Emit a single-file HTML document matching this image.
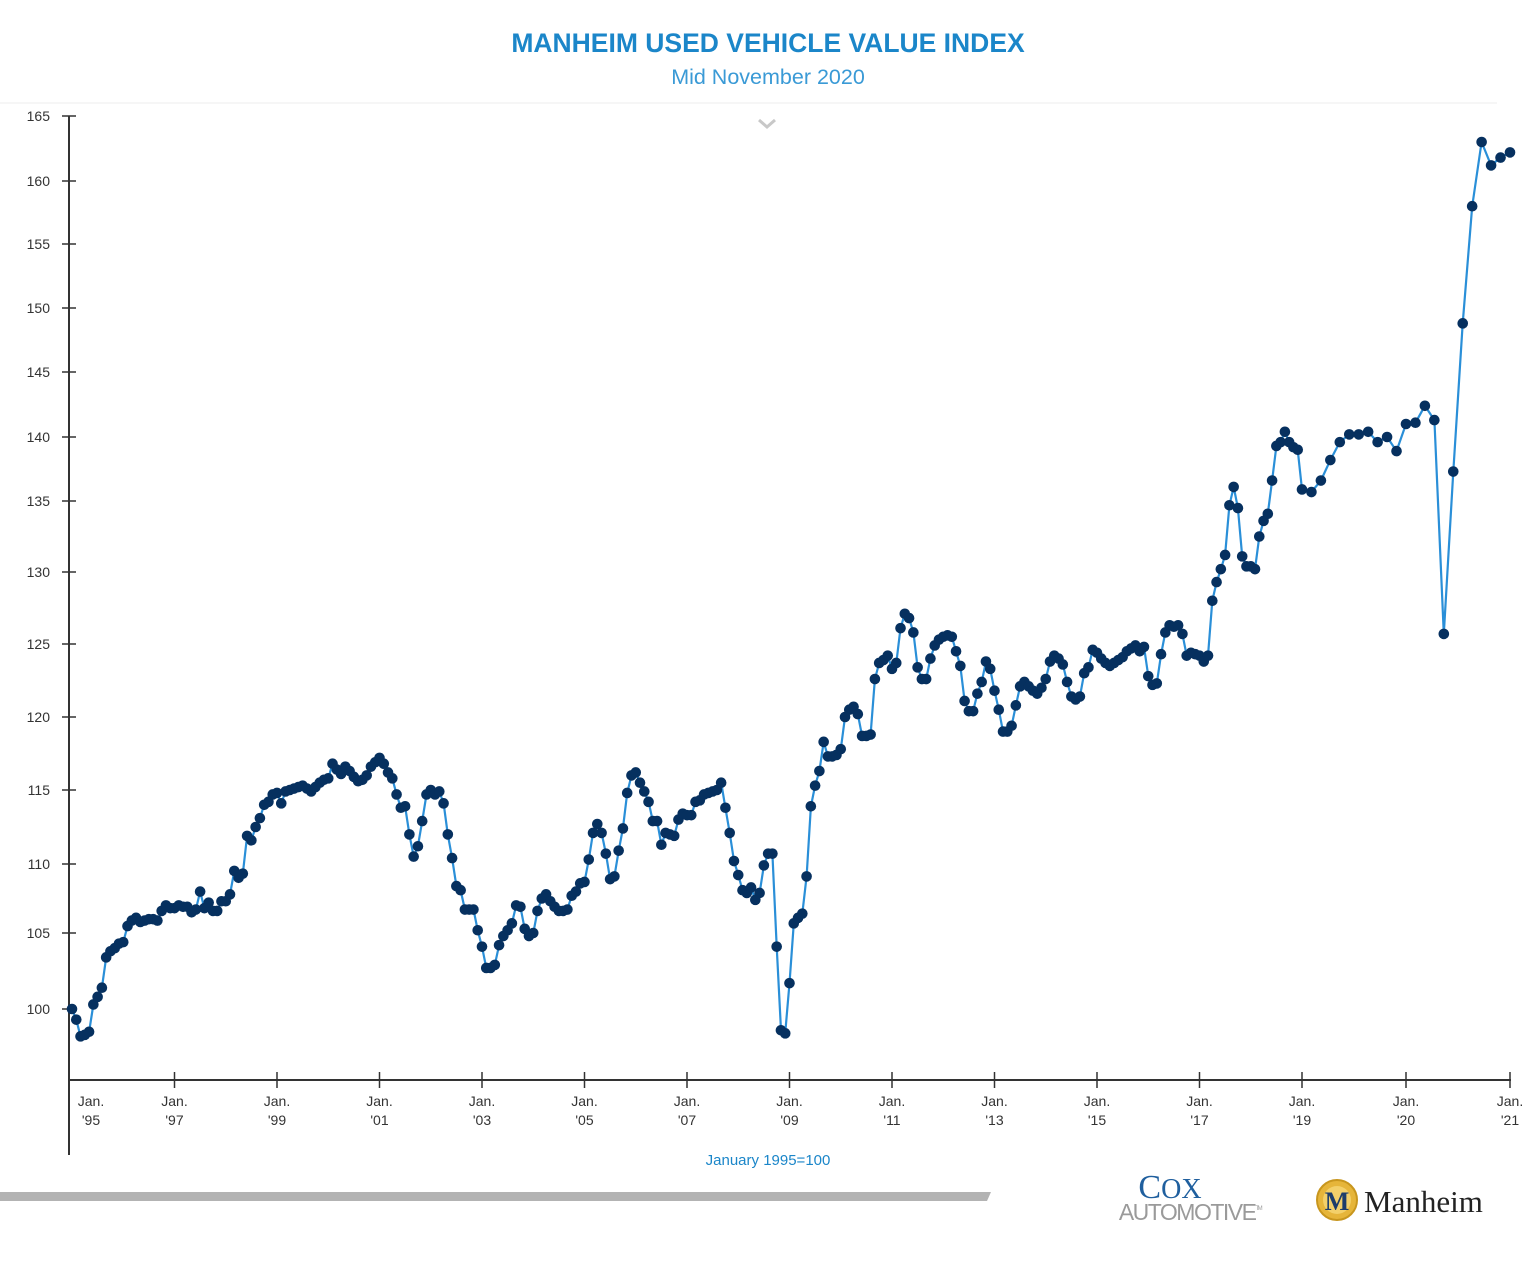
<!DOCTYPE html>
<html><head><meta charset="utf-8"><style>
body{margin:0;background:#fff;width:1536px;height:1268px;overflow:hidden;font-family:"Liberation Sans",sans-serif}
</style></head><body>
<svg width="1536" height="1268" viewBox="0 0 1536 1268" style="position:absolute;left:0;top:0">
<text x="768" y="52" text-anchor="middle" font-size="26.5" font-weight="bold" fill="#1b86c9">MANHEIM USED VEHICLE VALUE INDEX</text>
<text x="768" y="84" text-anchor="middle" font-size="21.5" fill="#3a9ad6">Mid November 2020</text>
<line x1="0" y1="103" x2="1497" y2="103" stroke="#eeeeee" stroke-width="1"/>
<path d="M759 120 L767 127 L775 120" fill="none" stroke="#c8c8c8" stroke-width="3"/>
<g id="axes"></g>
<g id="marks"></g>
<text x="768" y="1165" text-anchor="middle" font-size="15" fill="#1b86c9">January 1995=100</text>
<polygon points="0,1192 991,1192 987,1201 0,1201" fill="#b3b3b3"/>
<g>
<text x="1170" y="1198" text-anchor="middle" font-family="Liberation Serif" font-size="34" fill="#1f5f9e">C<tspan font-size="28">OX</tspan></text>
<text x="1190" y="1220" text-anchor="middle" font-family="Liberation Sans" font-size="23" fill="#9a9a9a" letter-spacing="-1.5">AUTOMOTIVE<tspan font-size="6" dy="-10">TM</tspan></text>
</g>
<g>
<circle cx="1337" cy="1200" r="20" fill="#e6b53a" stroke="#c8961e" stroke-width="2"/>
<circle cx="1337" cy="1200" r="14" fill="#f3d06a"/>
<text x="1337" y="1210" text-anchor="middle" font-family="Liberation Serif" font-weight="bold" font-size="26" fill="#1d3d6b">M</text>
<text x="1364" y="1212" font-family="Liberation Serif" font-size="31" fill="#222">Manheim</text>
</g>
</svg>
<script>
const years=[1995,1996,1997,1998,1999,2000,2001,2002,2003,2004,2005,2006,2007,2008,2009,2010,2011,2012,2013,2014,2015,2016,2017,2018,2019,2020];
const yTickValues=[100,105,110,115,120,125,130,135,140,145,150,155,160,165];
const xTickLabels=["'95","'97","'99","'01","'03","'05","'07","'09","'11","'13","'15","'17","'19","'20","'21"];
const xTickMonths=[0,24,48,72,96,120,144,168,192,216,240,264,288,299,310];
const values=[
100.0,99.3,98.2,98.3,98.5,100.3,100.8,101.4,103.4,103.8,104.0,104.3,
104.4,105.5,105.9,106.1,105.8,105.9,106.0,106.0,105.9,106.6,107.0,106.8,
106.8,107.0,106.9,106.9,106.5,106.7,108.0,106.8,107.2,106.6,106.6,107.3,
107.3,107.8,109.5,109.0,109.3,111.9,111.6,112.5,113.1,114.0,114.2,114.7,
114.8,114.1,114.9,115.0,115.1,115.2,115.3,115.1,114.9,115.2,115.5,115.7,
115.8,116.8,116.4,116.1,116.6,116.3,115.9,115.6,115.7,116.0,116.6,116.9,
117.2,116.8,116.2,115.8,114.7,113.8,113.9,112.0,110.5,111.2,112.9,114.7,
115.0,114.7,114.9,114.1,112.0,110.4,108.4,108.1,106.7,106.7,106.7,105.2,
104.1,102.7,102.7,102.9,104.2,104.8,105.2,105.7,107.0,106.9,105.3,104.8,
105.0,106.6,107.5,107.8,107.3,106.9,106.6,106.6,106.7,107.7,108.0,108.6,
108.7,110.3,112.1,112.7,112.1,110.7,108.9,109.1,110.9,112.4,114.8,116.0,
116.2,115.5,114.9,114.2,112.9,112.9,111.3,112.1,112.0,111.9,113.0,113.4,
113.3,113.3,114.2,114.3,114.7,114.8,114.9,115.0,115.5,113.8,112.1,110.2,
109.2,108.1,107.9,108.3,107.4,107.9,109.9,110.7,110.7,104.1,98.6,98.4,
101.7,105.7,106.1,106.4,109.1,113.9,115.3,116.3,118.3,117.3,117.3,117.4,
117.8,120.0,120.5,120.7,120.2,118.7,118.7,118.8,122.6,123.7,123.9,124.2,
123.3,123.7,126.1,127.1,126.8,125.8,123.4,122.6,122.6,124.0,124.9,125.3,
125.5,125.6,125.5,124.5,123.5,121.1,120.4,120.4,121.6,122.4,123.8,123.3,
121.8,120.5,119.0,119.0,119.4,120.8,122.1,122.4,122.1,121.8,121.6,122.0,
122.6,123.8,124.2,124.0,123.6,122.4,121.4,121.2,121.4,123.0,123.4,124.6,
124.4,124.0,123.7,123.5,123.7,123.9,124.1,124.5,124.7,124.9,124.5,124.8,
122.8,122.2,122.3,124.3,125.8,126.3,126.2,126.3,125.7,124.2,124.4,124.3,
124.2,123.8,124.2,128.0,129.3,130.2,131.2,134.7,136.1,134.5,131.1,130.4,
130.4,130.2,132.5,133.6,134.1,136.6,139.3,139.6,140.4,139.6,139.2,139.0,
135.9,135.7,136.6,138.2,139.6,140.2,140.2,140.4,139.6,140.0,138.9,141.0,
141.1,142.4,141.3,125.7,137.3,148.8,158.0,163.0,161.2,161.8,162.2];

// axis calibration (reference chart uses uneven spacing)
const yPix=[1009,933,864,790,717,644,572,501,437,372,308,244,181,116];
function yScale(v){
  for(let i=0;i<yTickValues.length-1;i++){
    const a=yTickValues[i],b=yTickValues[i+1];
    if(v<=b||i===yTickValues.length-2){return yPix[i]+(v-a)/(b-a)*(yPix[i+1]-yPix[i]);}
  }
}
function xScale(m){
  if(m<=288) return 72+m*(1302-72)/288;
  return 1302+(m-288)*(1510-1302)/22;
}
const NS='http://www.w3.org/2000/svg';
function mk(tag,attrs,parent){const e=document.createElementNS(NS,tag);for(const k in attrs)e.setAttribute(k,attrs[k]);parent.appendChild(e);return e;}
const axes=document.getElementById('axes'),marks=document.getElementById('marks');
let el=mk('line',{x1:69,y1:116,x2:69,y2:1155,stroke:'#333','stroke-width':2},axes);


el=mk('line',{x1:69,y1:1080,x2:1511,y2:1080,stroke:'#333','stroke-width':2},axes);


yTickValues.forEach(v=>{
  const y=yScale(v);
  const t=mk('line',{x1:62,y1:y,x2:76,y2:y,stroke:'#333','stroke-width':1.5},axes);
  
  
  const l=mk('text',{x:50,y:y+5,'text-anchor':'end','font-size':14,fill:'#333'},axes);
  l.textContent=v;
  
  
});
xTickMonths.forEach((m,i)=>{
  const x=Math.min(xScale(m),1510);
  if(i>0){
    const t=mk('line',{x1:x,y1:1072,x2:x,y2:1088,stroke:'#333','stroke-width':1.5},axes);
    
    
  }
  const cx=i===0?91:x;
  const a=mk('text',{x:cx,y:1106,'text-anchor':'middle','font-size':14,fill:'#333'},axes);
  a.textContent='Jan.';
  
  
  const b=mk('text',{x:cx,y:1125,'text-anchor':'middle','font-size':14,fill:'#333'},axes);
  b.textContent=xTickLabels[i];
  
  
});
let d='';
values.forEach((v,i)=>{d+=(i?'L':'M')+xScale(i).toFixed(1)+' '+yScale(v).toFixed(1);});
el=mk('path',{d:d,fill:'none',stroke:'#2a8fd8','stroke-width':2.2},marks);


values.forEach((v,i)=>{
  const c=mk('circle',{cx:xScale(i),cy:yScale(v),r:5.3,fill:'#06305f'},marks);
  
  
});
</script>
</body></html>
